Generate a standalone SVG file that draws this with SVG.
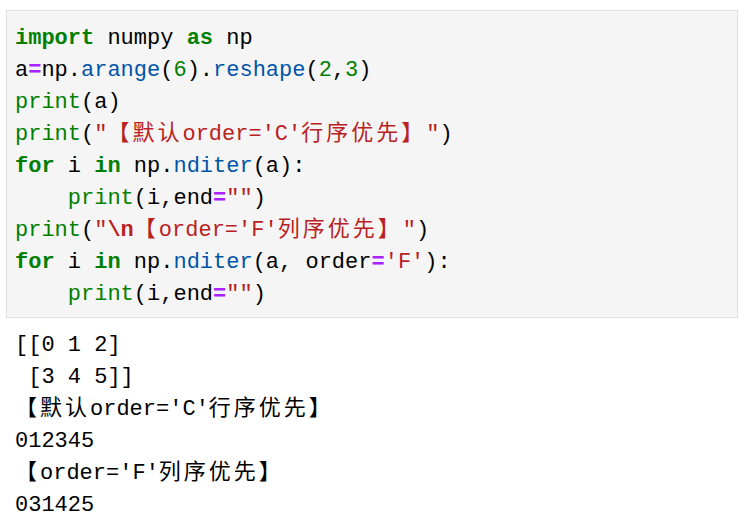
<svg xmlns="http://www.w3.org/2000/svg" width="749" height="523" viewBox="0 0 749 523">
<style>
text{font-family:"Liberation Mono","Noto Sans CJK SC",monospace;font-size:22px;fill:#000;white-space:pre}
.k{fill:#008000;font-weight:bold}
.o{fill:#aa22ff;font-weight:bold}
.b{fill:#008000}
.n{fill:#008000}
.f{fill:#0055aa}
.s{fill:#ba2121}
.c{letter-spacing:3px}
</style>
<rect width="749" height="523" fill="#fff"/>
<g id="code-cell">
<rect x="6.5" y="10.5" width="731" height="307" fill="#f5f5f5" stroke="#e0e0e0"/>
<text x="15" y="44" xml:space="preserve"><tspan class="k">import</tspan> numpy <tspan class="k">as</tspan> np</text>
<text x="15" y="76" xml:space="preserve">a<tspan class="o">=</tspan>np.<tspan class="f">arange</tspan>(<tspan class="n">6</tspan>).<tspan class="f">reshape</tspan>(<tspan class="n">2</tspan>,<tspan class="n">3</tspan>)</text>
<text x="15" y="108" xml:space="preserve"><tspan class="b">print</tspan>(a)</text>
<text x="15" y="140" xml:space="preserve"><tspan class="b">print</tspan>(<tspan class="s">"<tspan class="c">【默认</tspan>order='C'<tspan class="c">行序优先】</tspan>"</tspan>)</text>
<text x="15" y="172" xml:space="preserve"><tspan class="k">for</tspan> i <tspan class="k">in</tspan> np.<tspan class="f">nditer</tspan>(a):</text>
<text x="15" y="204" xml:space="preserve">    <tspan class="b">print</tspan>(i,end<tspan class="o">=</tspan><tspan class="s">""</tspan>)</text>
<text x="15" y="236" xml:space="preserve"><tspan class="b">print</tspan>(<tspan class="s">"</tspan><tspan class="s" font-weight="bold">\n</tspan><tspan class="s"><tspan class="c">【</tspan>order='F'<tspan class="c">列序优先】</tspan>"</tspan>)</text>
<text x="15" y="268" xml:space="preserve"><tspan class="k">for</tspan> i <tspan class="k">in</tspan> np.<tspan class="f">nditer</tspan>(a, order<tspan class="o">=</tspan><tspan class="s">'F'</tspan>):</text>
<text x="15" y="300" xml:space="preserve">    <tspan class="b">print</tspan>(i,end<tspan class="o">=</tspan><tspan class="s">""</tspan>)</text>
</g>
<g id="output">
<text x="15" y="351" xml:space="preserve">[[0 1 2]</text>
<text x="15" y="383" xml:space="preserve"> [3 4 5]]</text>
<text x="15" y="415" xml:space="preserve"><tspan class="c">【默认</tspan>order='C'<tspan class="c">行序优先】</tspan></text>
<text x="15" y="447" xml:space="preserve">012345</text>
<text x="15" y="479" xml:space="preserve"><tspan class="c">【</tspan>order='F'<tspan class="c">列序优先】</tspan></text>
<text x="15" y="511" xml:space="preserve">031425</text>
</g>
</svg>
